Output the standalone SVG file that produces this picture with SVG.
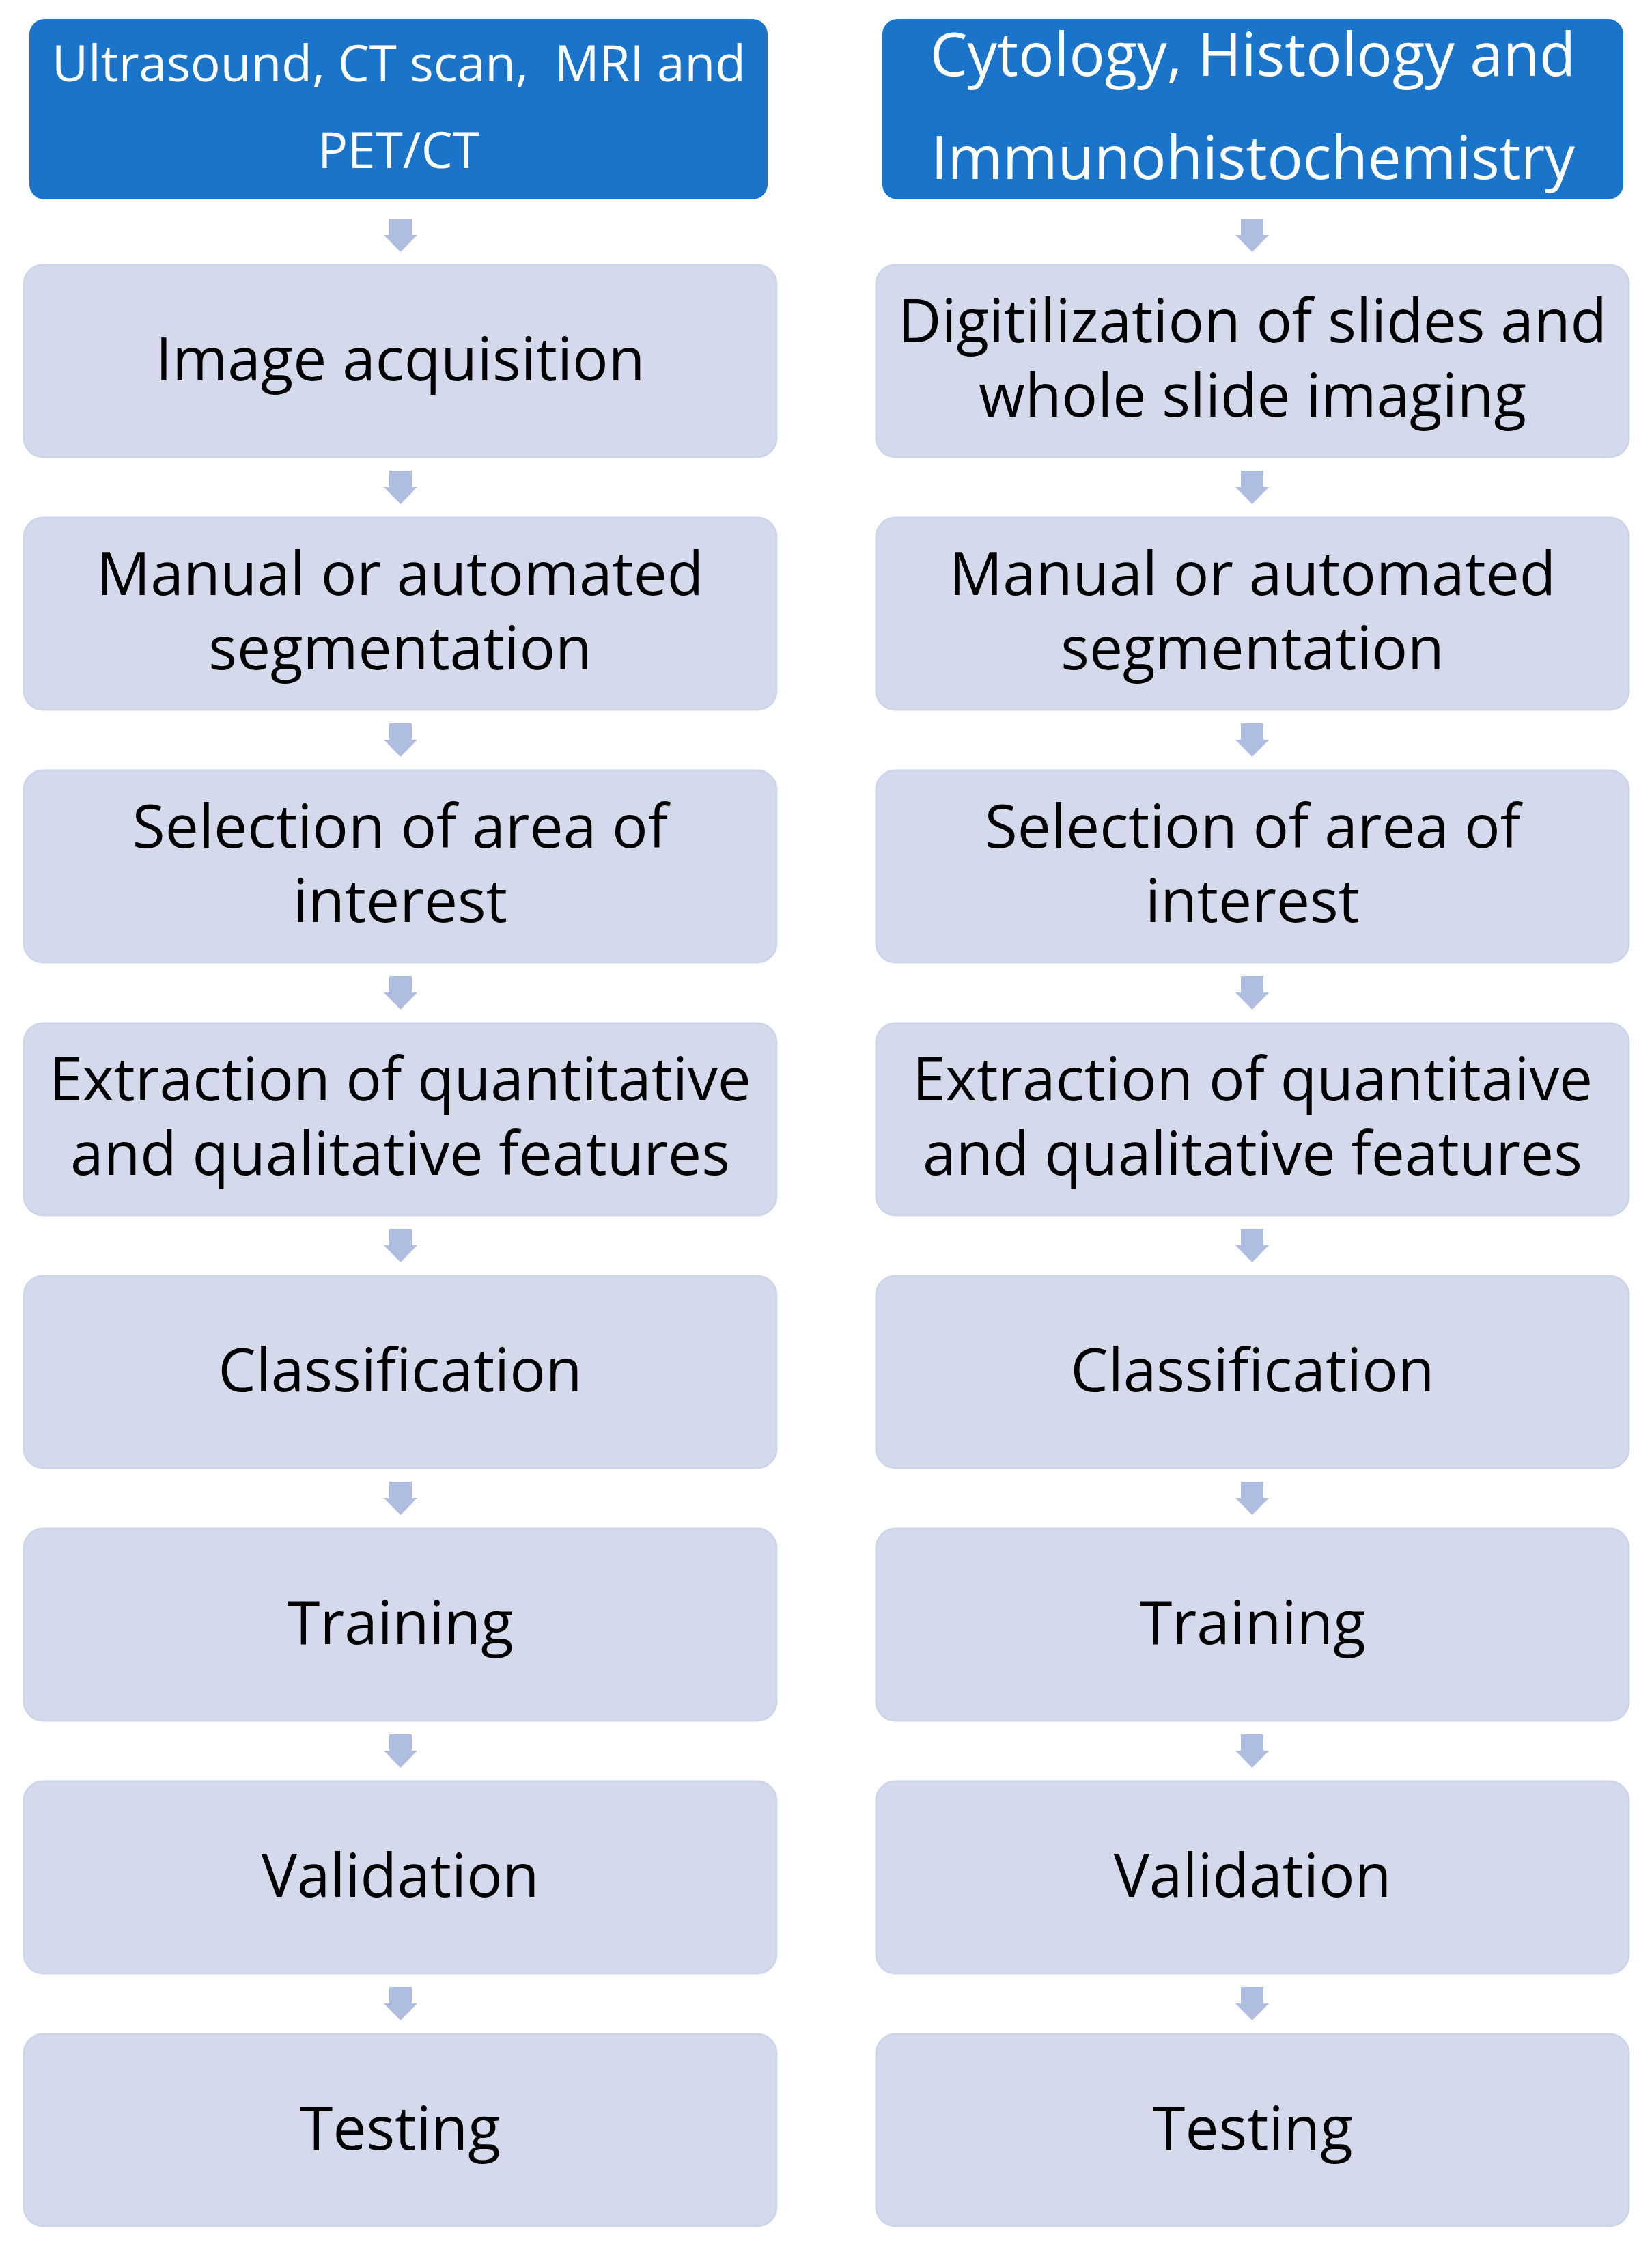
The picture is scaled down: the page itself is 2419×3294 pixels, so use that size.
<svg xmlns="http://www.w3.org/2000/svg" xmlns:xlink="http://www.w3.org/1999/xlink" width="2419" height="3294" viewBox="0 0 2419 3294">
<style>
.hdr{fill:#1A74C9;}
.box{fill:#D4DAEC;stroke:#CDD5EA;stroke-width:3;}
.arr{fill:#AEBDE0;}
text{font-family:"Open Sans","Liberation Sans",sans-serif;text-anchor:middle;}
.t{font-size:87.5px;fill:#000;}
.h1{font-size:73px;fill:#fff;}
.h2{font-size:87px;fill:#fff;}
</style>
<defs>
<path id="arrow" class="arr" d="M-16.5,0 H16.5 V24 H24.5 L0,49 L-24.5,24 H-16.5 Z"/>
</defs>
<rect width="2419" height="3294" fill="#fff"/>
<g id="connectors">
<use xlink:href="#arrow" x="586.5" y="320"/>
<use xlink:href="#arrow" x="586.5" y="689"/>
<use xlink:href="#arrow" x="586.5" y="1059"/>
<use xlink:href="#arrow" x="586.5" y="1429"/>
<use xlink:href="#arrow" x="586.5" y="1799"/>
<use xlink:href="#arrow" x="586.5" y="2169"/>
<use xlink:href="#arrow" x="586.5" y="2539"/>
<use xlink:href="#arrow" x="586.5" y="2909"/>
<use xlink:href="#arrow" x="1833.5" y="320"/>
<use xlink:href="#arrow" x="1833.5" y="689"/>
<use xlink:href="#arrow" x="1833.5" y="1059"/>
<use xlink:href="#arrow" x="1833.5" y="1429"/>
<use xlink:href="#arrow" x="1833.5" y="1799"/>
<use xlink:href="#arrow" x="1833.5" y="2169"/>
<use xlink:href="#arrow" x="1833.5" y="2539"/>
<use xlink:href="#arrow" x="1833.5" y="2909"/>
</g>
<g id="L0"><rect class="hdr" x="43" y="28" width="1081" height="264" rx="22"/>
<text class="h1" x="584" y="119" xml:space="preserve">Ultrasound, CT scan,  MRI and</text>
<text class="h1" x="584" y="246">PET/CT</text></g>
<g id="R0"><rect class="hdr" x="1292" y="28" width="1085" height="264" rx="22"/>
<text class="h2" x="1834.5" y="111">Cytology, Histology and</text>
<text class="h2" x="1834.5" y="262">Immunohistochemistry</text></g>

<g id="L1"><rect class="box" x="35" y="388" width="1102" height="281" rx="28"/>
<text class="t" x="586" y="557">Image acquisition</text></g>
<g id="L2"><rect class="box" x="35" y="758" width="1102" height="281" rx="28"/>
<text class="t" x="586" y="871">Manual or automated</text><text class="t" x="586" y="980">segmentation</text></g>
<g id="L3"><rect class="box" x="35" y="1128" width="1102" height="281" rx="28"/>
<text class="t" x="586" y="1241">Selection of area of</text><text class="t" x="586" y="1350">interest</text></g>
<g id="L4"><rect class="box" x="35" y="1498" width="1102" height="281" rx="28"/>
<text class="t" x="586" y="1611">Extraction of quantitative</text><text class="t" x="586" y="1720">and qualitative features</text></g>
<g id="L5"><rect class="box" x="35" y="1868" width="1102" height="281" rx="28"/>
<text class="t" x="586" y="2037">Classification</text></g>
<g id="L6"><rect class="box" x="35" y="2238" width="1102" height="281" rx="28"/>
<text class="t" x="586" y="2407">Training</text></g>
<g id="L7"><rect class="box" x="35" y="2608" width="1102" height="281" rx="28"/>
<text class="t" x="586" y="2777">Validation</text></g>
<g id="L8"><rect class="box" x="35" y="2978" width="1102" height="281" rx="28"/>
<text class="t" x="586" y="3147">Testing</text></g>

<g id="R1"><rect class="box" x="1283" y="388" width="1102" height="281" rx="28"/>
<text class="t" x="1834" y="501">Digitilization of slides and</text><text class="t" x="1834" y="610">whole slide imaging</text></g>
<g id="R2"><rect class="box" x="1283" y="758" width="1102" height="281" rx="28"/>
<text class="t" x="1834" y="871">Manual or automated</text><text class="t" x="1834" y="980">segmentation</text></g>
<g id="R3"><rect class="box" x="1283" y="1128" width="1102" height="281" rx="28"/>
<text class="t" x="1834" y="1241">Selection of area of</text><text class="t" x="1834" y="1350">interest</text></g>
<g id="R4"><rect class="box" x="1283" y="1498" width="1102" height="281" rx="28"/>
<text class="t" x="1834" y="1611">Extraction of quantitaive</text><text class="t" x="1834" y="1720">and qualitative features</text></g>
<g id="R5"><rect class="box" x="1283" y="1868" width="1102" height="281" rx="28"/>
<text class="t" x="1834" y="2037">Classification</text></g>
<g id="R6"><rect class="box" x="1283" y="2238" width="1102" height="281" rx="28"/>
<text class="t" x="1834" y="2407">Training</text></g>
<g id="R7"><rect class="box" x="1283" y="2608" width="1102" height="281" rx="28"/>
<text class="t" x="1834" y="2777">Validation</text></g>
<g id="R8"><rect class="box" x="1283" y="2978" width="1102" height="281" rx="28"/>
<text class="t" x="1834" y="3147">Testing</text></g>
</svg>
